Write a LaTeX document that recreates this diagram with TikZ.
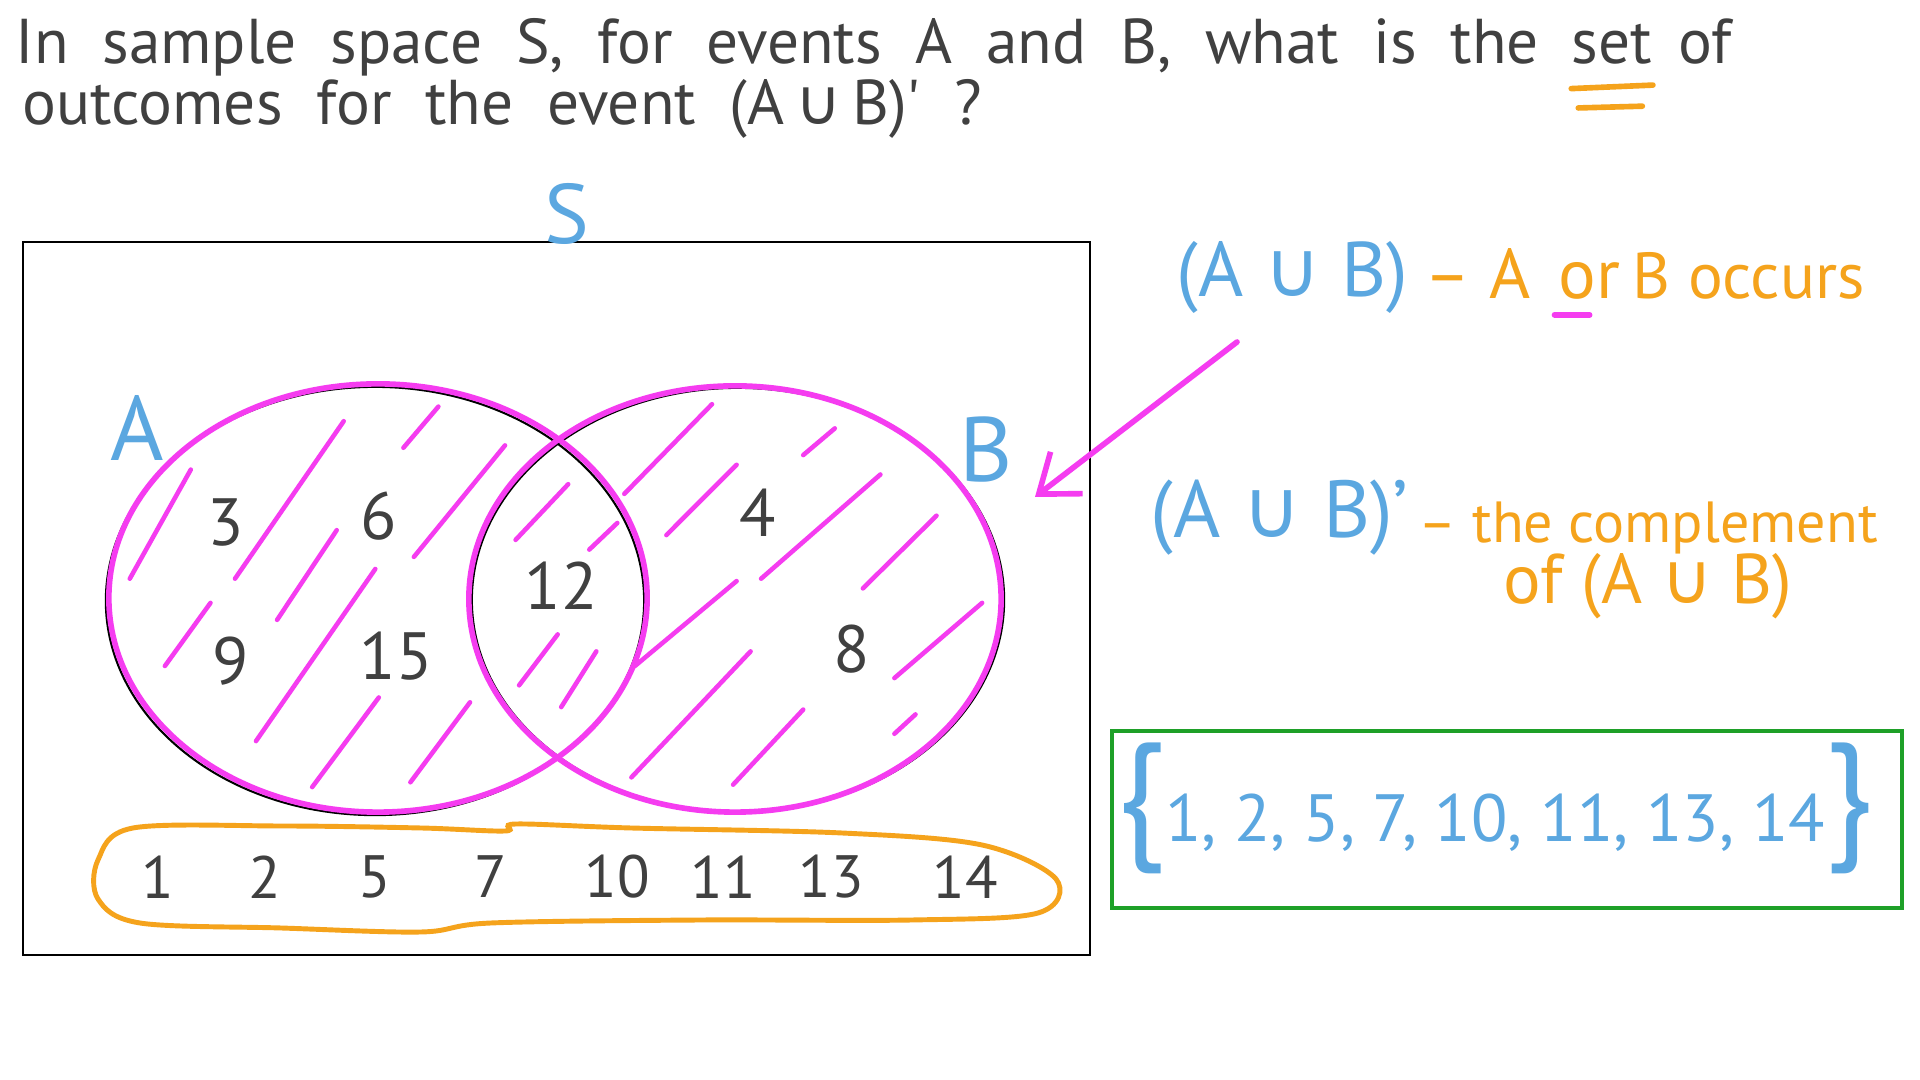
\documentclass[tikz,border=0pt]{standalone}
\usepackage{fontspec}
\setmainfont{PT Sans}
\newfontfamily\titlefont{PT Sans}[WordSpace=2.0]
\newfontfamily\symf{DejaVu Sans}
\usetikzlibrary{arrows.meta}
\definecolor{pinkc}{RGB}{245,60,240}
\definecolor{bluec}{RGB}{91,167,224}
\definecolor{orangec}{RGB}{245,163,28}
\definecolor{greenc}{RGB}{30,160,40}
\definecolor{graytxt}{RGB}{64,64,64}
\newcommand{\cupsym}{{\symf ∪}}
\begin{document}
\begin{tikzpicture}[x=0.01cm,y=-0.01cm,
  titletxt/.style={font=\titlefont\fontsize{18}{21}\selectfont, text=graytxt, anchor=base west, inner sep=0},
  num/.style={font=\fontsize{19}{22}\selectfont, text=graytxt, inner sep=0},
  loopnum/.style={font=\fontsize{17}{20}\selectfont, text=graytxt, inner sep=0},
  lbl/.style={text=bluec, inner sep=0},
  note/.style={text=orangec, inner sep=0, anchor=base west, font=\fontsize{20}{24}\selectfont},
  hatch/.style={pinkc, line width=1.3pt, line cap=round},
  pinkline/.style={pinkc, line width=1.6pt},
  blackline/.style={black, line width=0.6pt}]
\useasboundingbox (0,0) rectangle (1920,1080);
\fill[white] (0,0) rectangle (1920,1080);

% Title
\node[titletxt] (t1a) at (15,64) {In sample space S, for events A and B, what is the};
\node[titletxt] (tset) at ([xshift=9pt]t1a.base east) {set};
\node[titletxt] (tof) at ([xshift=7pt]tset.base east) {of};
\node[titletxt] (t2) at (22,125) {outcomes for the event (A\,\cupsym\,B)' ?};
\draw[orangec, line width=1.6pt, line cap=round] ([yshift=-7pt]tset.base west) -- ([yshift=-6pt]tset.base east);
\draw[orangec, line width=1.6pt, line cap=round] ([xshift=2pt,yshift=-12.5pt]tset.base west) -- ([xshift=-3pt,yshift=-12pt]tset.base east);

% Sample space box
\draw[line width=0.8pt] (23,242) rectangle (1090,955);
\node[lbl, font=\fontsize{24}{28}\selectfont] (S) at (567,214) {S};

% Circles
\draw[blackline] (375,601) ellipse [x radius=2.69cm, y radius=2.14cm];
\draw[blackline] (738,600) ellipse [x radius=2.66cm, y radius=2.12cm];
\draw[pinkline] (378,598) ellipse [x radius=2.69cm, y radius=2.14cm];
\draw[pinkline] (735,599) ellipse [x radius=2.66cm, y radius=2.13cm];
\node[lbl, font=\fontsize{26}{30}\selectfont] (Alab) at (137,428) {A};
\node[lbl, font=\fontsize{26}{30}\selectfont] (Blab) at (986,450) {B};

% Hatching
\draw[hatch] (190.8,469.6) -- (129.8,578.7);
\draw[hatch] (343.7,421.2) -- (235,578.7);
\draw[hatch] (438.4,406.6) -- (403.4,447.8);
\draw[hatch] (505,445.4) -- (413.9,556.9);
\draw[hatch] (210.5,602.9) -- (164.9,666);
\draw[hatch] (336.7,530.2) -- (277.1,619.9);
\draw[hatch] (375.3,569) -- (256,741.1);
\draw[hatch] (378.8,697.5) -- (312.2,787.1);
\draw[hatch] (470,702.3) -- (410.4,782.3);
\draw[hatch] (568.2,484.2) -- (515.6,539.9);
\draw[hatch] (617.3,523) -- (589.3,549.6);
\draw[hatch] (557.7,634.4) -- (519.1,685.3);
\draw[hatch] (596.3,651.4) -- (561.2,707.1);
\draw[hatch] (712,404.2) -- (624.3,493.9);
\draw[hatch] (736.6,464.8) -- (666.4,535.1);
\draw[hatch] (834.8,428.4) -- (803.2,455.1);
\draw[hatch] (880.4,474.5) -- (761.1,578.7);
\draw[hatch] (936.5,515.7) -- (862.9,588.4);
\draw[hatch] (736.6,581.1) -- (634.9,666);
\draw[hatch] (982.1,602.9) -- (894.4,678.1);
\draw[hatch] (750.6,651.4) -- (631.4,777.4);
\draw[hatch] (803.2,709.6) -- (733.1,784.7);
\draw[hatch] (915.5,714.4) -- (894.4,733.8);

% Numbers in regions
\node[num] (n3) at (226,523) {3};
\node[num] (n6) at (379,516) {6};
\node[num] (n9) at (231,661) {9};
\node[num] (n15) at (396,656) {15};
\node[num] (n12) at (561,586) {12};
\node[num] (n4) at (758,513) {4};
\node[num] (n8) at (852,649) {8};

% Orange loop
\draw[orangec, line width=1.4pt] plot[smooth cycle, tension=0.55] coordinates {
 (133,828) (281,826) (421,828) (505,831) (516,824) (631,828) (842,833) (982,845)
 (1056,879) (1038,913) (912,920) (701,920) (491,923) (421,932) (281,928)
 (140,923) (98,899) (98,860)};
\node[loopnum] (o1) at (158,877) {1};
\node[loopnum] (o2) at (265,877) {2};
\node[loopnum] (o5) at (375,877) {5};
\node[loopnum] (o7) at (491,877) {7};
\node[loopnum] (o10) at (617,877) {10};
\node[loopnum] (o11) at (723,877) {11};
\node[loopnum] (o13) at (831,877) {13};
\node[loopnum] (o14) at (965,877) {14};

% Right notes
\node[lbl, anchor=base west, font=\fontsize{22}{26}\selectfont] (u1) at (1176,297) {(A \cupsym{} B)};
\node[note] (n1a) at (1424,299) {– A};
\node[note] (n1or) at (1558,299) {or};
\node[note, font=\fontsize{18.5}{22}\selectfont] (n1b) at (1632,299) {B occurs};
\draw[pinkc, line width=1.6pt, line cap=round] ([xshift=-1pt,yshift=-4.5pt]n1or.base west) -- ([xshift=9pt,yshift=-4.5pt]n1or.base west);

\coordinate (arrS) at (1237,342);
\coordinate (arrE) at (1035,497);
\draw[pinkc, line width=1.6pt, line cap=round, -{Straight Barb[length=10pt,width=15pt]}] (arrS) -- (arrE);

\node[lbl, anchor=base west, font=\fontsize{23}{27}\selectfont] (u2) at (1150,538) {(A \cupsym{} B)'};
\node[note, font=\fontsize{16.5}{20}\selectfont] (n2a) at (1418,543) {– the complement};
\node[note] (n2b) at (1503,604) {of (A \cupsym{} B)};

% Answer box
\draw[greenc, line width=1.3pt] (1112,731) rectangle (1902,908);
\node[lbl, anchor=base, font=\fontsize{19}{22}\selectfont] (ans) at (1495,842)
  {{\fontsize{40}{40}\selectfont\{}1, 2, 5, 7, 10, 11, 13, 14{\fontsize{40}{40}\selectfont\}}};
\end{tikzpicture}
\end{document}
